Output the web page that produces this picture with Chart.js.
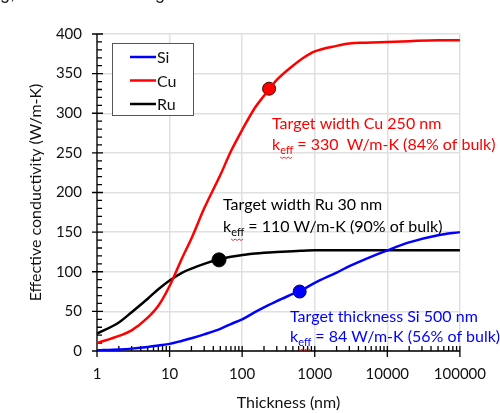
<!DOCTYPE html>
<html>
<head>
<meta charset="utf-8">
<script src="https://cdn.jsdelivr.net/npm/chart.js@4/dist/chart.umd.min.js"></script>
<style>
  html, body { margin: 0; padding: 0; background: #fff; }
</style>
</head>
<body>
<canvas id="chart" width="500" height="413"></canvas>
<script>
// thickness grid (nm) and effective conductivity (W/m-K)
const thickness = [1, 2, 3, 5, 7, 10, 15, 20, 30, 50, 70, 100, 150, 200, 300, 500, 700, 1000, 2000, 3000, 5000, 10000, 20000, 50000, 100000];
const siValues = [1, 2, 3, 5, 7, 9, 13, 16, 21, 28, 34, 40, 49, 55, 63, 72, 78, 86, 99, 107, 116, 127, 137, 146, 150];
const cuValues = [10, 19, 26, 42, 57, 82, 118, 142, 180, 222, 252, 279, 307, 322, 342, 360, 370, 378, 385, 388, 389, 390, 391, 392, 392];
const ruValues = [22, 36, 49, 66, 78, 89, 99, 104, 110, 116, 119, 121, 123, 124, 125, 126, 126.5, 127, 127, 127, 127, 127, 127, 127, 127];

// target points [thickness, conductivity]
const siTarget = [620, 75];
const cuTarget = [235, 331];
const ruTarget = [48, 115];

const xTicks = [1, 10, 100, 1000, 10000, 100000];
const yTicks = [0, 50, 100, 150, 200, 250, 300, 350, 400];

const seriesNames = ['Si', 'Cu', 'Ru'];
const seriesColors = ['#0000ff', '#ff0000', '#000000'];

const cuNote = ['Target width Cu 250 nm', ' = 330  W/m-K (84% of bulk)'];
const ruNote = ['Target width Ru 30 nm', ' = 110 W/m-K (90% of bulk)'];
const siNote = ['Target thickness Si 500 nm', ' = 84 W/m-K (56% of bulk)'];

Chart.defaults.font.family = 'Lato';
Chart.defaults.color = '#111';

function curve(vals) {
    return thickness.map(function (t, i) { return { x: t, y: vals[i] }; });
}

// axis lines with crossing major ticks and inside minor ticks
const axisTicks = {
    id: 'axisTicks',
    beforeDatasetsDraw(chart) {
        const ctx = chart.ctx;
        const a = chart.chartArea;
        const xs = chart.scales.x, ys = chart.scales.y;
        ctx.save();
        ctx.strokeStyle = '#000';
        ctx.lineWidth = 1.3;
        ctx.beginPath();
        ctx.moveTo(a.left, a.top);
        ctx.lineTo(a.left, a.bottom);
        ctx.lineTo(a.right, a.bottom);
        xTicks.forEach(function (v) {
            const p = xs.getPixelForValue(v);
            ctx.moveTo(p, a.bottom - 5);
            ctx.lineTo(p, a.bottom + 6);
        });
        for (let d = 1; d < 100000; d *= 10) {
            for (let m = 2; m < 10; m++) {
                const p = xs.getPixelForValue(d * m);
                ctx.moveTo(p, a.bottom - 5);
                ctx.lineTo(p, a.bottom);
            }
        }
        for (let v = 0; v <= 400; v += 10) {
            const p = ys.getPixelForValue(v);
            if (v % 50 === 0) {
                ctx.moveTo(a.left - 5, p);
                ctx.lineTo(a.left + 6, p);
            } else {
                ctx.moveTo(a.left, p);
                ctx.lineTo(a.left + 5, p);
            }
        }
        ctx.stroke();
        ctx.restore();
    }
};

// boxed legend inside the plot
const boxLegend = {
    id: 'boxLegend',
    afterDraw(chart) {
        const ctx = chart.ctx;
        ctx.save();
        ctx.strokeStyle = '#555';
        ctx.lineWidth = 1;
        ctx.fillStyle = '#fff';
        ctx.fillRect(112, 43, 81, 72);
        ctx.strokeRect(112.5, 43.5, 81, 72);
        ctx.font = '16px Lato';
        ctx.textBaseline = 'middle';
        for (let i = 0; i < 3; i++) {
            const ds = chart.data.datasets[i];
            const y = 57 + i * 23.5;
            ctx.strokeStyle = ds.borderColor;
            ctx.lineWidth = 2.5;
            ctx.beginPath();
            ctx.moveTo(130, y);
            ctx.lineTo(156, y);
            ctx.stroke();
            ctx.fillStyle = '#111';
            ctx.fillText(ds.label, 157, y + 1);
        }
        ctx.restore();
    }
};

function drawNote(ctx, lines, x, y1, y2, color) {
    ctx.fillStyle = color;
    ctx.font = '16px Lato';
    ctx.textBaseline = 'alphabetic';
    ctx.fillText(lines[0], x, y1);
    ctx.fillText('k', x, y2);
    const kw = ctx.measureText('k').width;
    ctx.font = '11px Lato';
    ctx.fillText('eff', x + kw, y2 + 4);
    const ew = ctx.measureText('eff').width;
    // red squiggle under "eff"
    ctx.strokeStyle = '#e00';
    ctx.lineWidth = 0.8;
    ctx.beginPath();
    for (let i = 0; i <= ew; i += 2) {
        const yy = y2 + 7 + ((i / 2) % 2 === 0 ? 0 : 1.5);
        if (i === 0) ctx.moveTo(x + kw + i, yy); else ctx.lineTo(x + kw + i, yy);
    }
    ctx.stroke();
    ctx.font = '16px Lato';
    ctx.fillText(lines[1], x + kw + ew, y2);
}

const notes = {
    id: 'notes',
    afterDraw(chart) {
        const ctx = chart.ctx;
        ctx.save();
        drawNote(ctx, cuNote, 272, 129, 150, '#ff0000');
        drawNote(ctx, ruNote, 223, 210, 232, '#000000');
        drawNote(ctx, siNote, 290, 322, 342, '#0000ff');
        // cut-off caption descenders at the very top
        ctx.fillStyle = '#222';
        ctx.font = '18px "Liberation Sans"';
        ctx.fillText('g,', 0, -1);
        ctx.fillText('g', 155, -1);
        ctx.restore();
    }
};

function target(pt, color, edge, r) {
    return {
        type: 'scatter',
        data: [{ x: pt[0], y: pt[1] }],
        backgroundColor: color,
        borderColor: edge,
        borderWidth: 1,
        pointRadius: r,
        pointHoverRadius: r
    };
}

const ctx = document.getElementById('chart').getContext('2d');
const chart = new Chart(ctx, {
    type: 'line',
    data: {
        datasets: [
            { label: seriesNames[0], data: curve(siValues), borderColor: seriesColors[0], borderWidth: 2.5, pointRadius: 0, cubicInterpolationMode: 'monotone' },
            { label: seriesNames[1], data: curve(cuValues), borderColor: seriesColors[1], borderWidth: 2.5, pointRadius: 0, cubicInterpolationMode: 'monotone' },
            { label: seriesNames[2], data: curve(ruValues), borderColor: seriesColors[2], borderWidth: 2.5, pointRadius: 0, cubicInterpolationMode: 'monotone' },
            target(cuTarget, '#ff0000', '#400', 6.5),
            target(ruTarget, '#000000', '#000', 7),
            target(siTarget, '#0000ff', '#000066', 6.5)
        ]
    },
    options: {
        responsive: false,
        animation: false,
        events: [],
        layout: { padding: { top: 34, right: 38, left: 0, bottom: 0 } },
        plugins: { legend: { display: false }, tooltip: { enabled: false } },
        scales: {
            x: {
                type: 'logarithmic',
                min: 1,
                max: 100000,
                afterBuildTicks: function (scale) {
                    scale.ticks = xTicks.map(function (v) { return { value: v }; });
                },
                afterFit: function (scale) { scale.height = 62; },
                ticks: {
                    font: { size: 15 },
                    padding: 14,
                    maxRotation: 0,
                    callback: function (v) { return String(v); }
                },
                grid: { color: '#e0e0e0', lineWidth: 1.5, drawTicks: false },
                border: { display: false },
                title: {
                    display: true,
                    text: '\u2003\u2002Thickness (nm)',
                    font: { size: 16 },
                    padding: { top: 0, bottom: 1 }
                }
            },
            y: {
                min: 0,
                max: 400,
                afterBuildTicks: function (scale) {
                    scale.ticks = yTicks.map(function (v) { return { value: v }; });
                },
                afterFit: function (scale) { scale.width = 97; },
                ticks: { font: { size: 15 }, padding: 15 },
                grid: { color: '#e0e0e0', lineWidth: 1.5, drawTicks: false },
                border: { display: false },
                title: {
                    display: true,
                    text: 'Effective conductivity (W/m-K)',
                    font: { size: 16 },
                    padding: { top: 26, bottom: 0 }
                }
            }
        }
    },
    plugins: [axisTicks, boxLegend, notes]
});
</script>
</body>
</html>
